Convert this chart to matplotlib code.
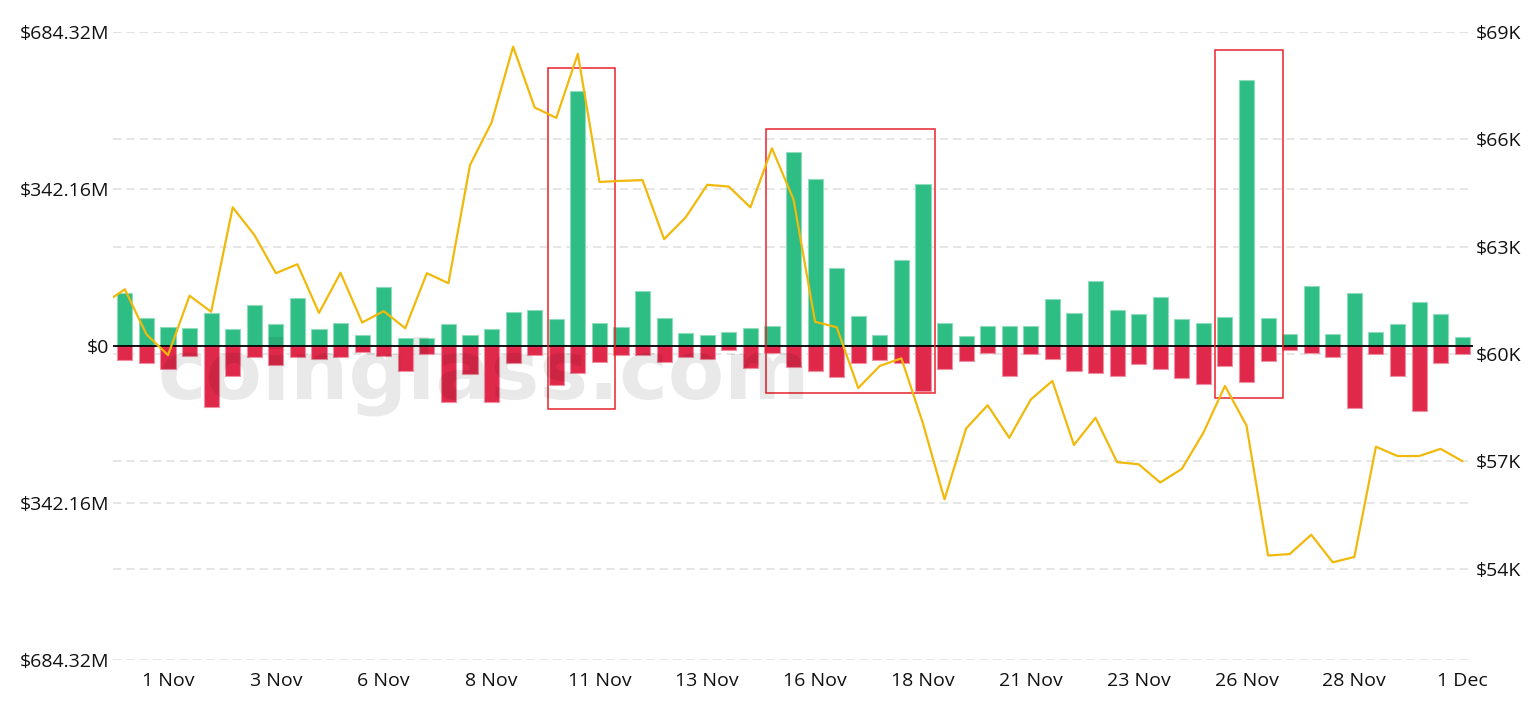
import numpy as np
import matplotlib
matplotlib.use('Agg')
import matplotlib.pyplot as plt
import matplotlib.transforms as mtransforms
from matplotlib.patches import Rectangle

plt.rcParams['font.family'] = ['Open Sans', 'DejaVu Sans']

# long liquidations (green, $M) per 12h bucket, 31 Oct 00:00 .. 1 Dec 00:00
long_liq = [116, 62, 41, 38.5, 72.5, 36, 90, 49, 105, 37, 51, 24, 129,
            18.5, 17, 47, 25, 36.6, 75, 78, 58, 555, 50, 42, 120, 62,
            28, 23.5, 30, 39, 42.5, 422, 365, 170, 66, 25, 188, 353, 51,
            22, 44, 42.5, 42.5, 103.5, 71, 142, 78, 69, 106, 58, 51, 64,
            579, 62, 26.5, 130, 27, 116, 31.6, 47, 96, 69, 20]
# short liquidations (red, $M)
short_liq = [31, 37, 50, 22.5, 134, 65, 24, 40.5, 24, 27.5, 25, 14, 21,
             54, 18, 122, 62, 122, 38, 19.6, 84, 59.5, 35, 19.6, 18.6, 34,
             24, 28, 9, 49, 16, 46.5, 54, 67, 36, 30, 38, 99, 51, 33, 16,
             64.5, 18, 27.5, 55, 58, 65, 39, 51, 70, 83, 44, 78, 32.5, 9,
             16, 24.6, 136, 17, 64.5, 142, 37, 18]
# BTC price ($K), first value is the bucket before the first bar
price = [61.4, 61.81, 60.55, 59.97, 61.63, 61.18, 64.10, 63.33, 62.26, 62.51,
         61.15, 62.27, 60.88, 61.20, 60.72, 62.26, 61.98, 65.28, 66.47,
         68.59, 66.89, 66.60, 68.39, 64.81, 64.84, 64.86, 63.21, 63.82,
         64.73, 64.68, 64.10, 65.75, 64.32, 60.90, 60.75, 59.05, 59.67,
         59.88, 58.06, 55.94, 57.92, 58.57, 57.66, 58.73, 59.25, 57.46,
         58.22, 56.98, 56.92, 56.41, 56.79, 57.80, 59.11, 58.00, 54.37,
         54.41, 54.95, 54.18, 54.33, 57.41, 57.15, 57.15, 57.35, 57.01]

tick_labels = ['1 Nov', '3 Nov', '6 Nov', '8 Nov', '11 Nov', '13 Nov', '16 Nov',
               '18 Nov', '21 Nov', '23 Nov', '26 Nov', '28 Nov', '1 Dec']
left_ticks = [-684.32, -342.16, 0, 342.16, 684.32]
right_ticks = [54, 57, 60, 63, 66, 69]

# highlighted boxes: (first bar, last bar, top $M, bottom $M)
boxes = [(19.6, 22.7, 606, -137), (29.74, 37.58, 474, -102), (50.56, 53.68, 646, -113)]

n = len(long_liq)
x = np.arange(n)
green = '#2ebd85'
red = '#e0294a'
grid_c = '#e2e2e2'

fig = plt.figure(figsize=(15.37, 7.08), dpi=100)
ax = fig.add_axes([113 / 1537, 48 / 708, 1360 / 1537, 628 / 708])
ax2 = ax.twinx()

ax.bar(x, long_liq, width=0.7, color=green, edgecolor='#8fdcbb', linewidth=0.8, zorder=2)
ax.bar(x, -np.array(short_liq), width=0.7, color=red, edgecolor='#f08ea2', linewidth=0.8, zorder=2)
ax.axhline(0, color='black', lw=1.3, zorder=3)

ax.set_xlim(-0.55, n - 0.5)
ax.set_ylim(-684.32, 684.32)
ax2.set_ylim(51.45, 69.0)

# dashed grid for both axes, drawn under the bars
for t in left_ticks:
    if t != 0:
        ax.axhline(t, color=grid_c, lw=1.2, ls=(0, (5, 3)), zorder=0)
blend = mtransforms.blended_transform_factory(ax.transAxes, ax2.transData)
for t in right_ticks:
    ax.plot([0, 1], [t, t], transform=blend, color=grid_c, lw=1.2, ls=(0, (5, 3)), zorder=0)

ax2.plot(np.arange(-1, n), price, color='#f0b90b', lw=1.6, zorder=4)

for x0, x1, top, bot in boxes:
    ax.add_patch(Rectangle((x0, bot), x1 - x0, top - bot, fill=False,
                           edgecolor='#e8232c', lw=1.1, zorder=5))

ax.set_yticks(left_ticks)
ax.yaxis.set_major_formatter(matplotlib.ticker.FuncFormatter(
    lambda v, p: '$0' if v == 0 else '$%.2fM' % abs(v)))
ax2.set_yticks(right_ticks)
ax2.set_yticklabels(['$%dK' % t for t in right_ticks])
ax.set_xticks(range(2, n, 5))
ax.set_xticklabels(tick_labels)

for a in (ax, ax2):
    for s in a.spines.values():
        s.set_visible(False)
    a.tick_params(length=0, labelsize=14, colors='#111111')
ax.tick_params(axis='y', pad=3)
ax.tick_params(axis='x', pad=9)
ax2.tick_params(axis='y', pad=2)

# watermark
ax.text(0.273, 0.417, 'coinglass.com', transform=ax.transAxes, ha='center', va='baseline',
        fontsize=59, fontweight='bold', family='DejaVu Sans', color='black', alpha=0.085, zorder=6)

fig.savefig('out.png', dpi=100)
